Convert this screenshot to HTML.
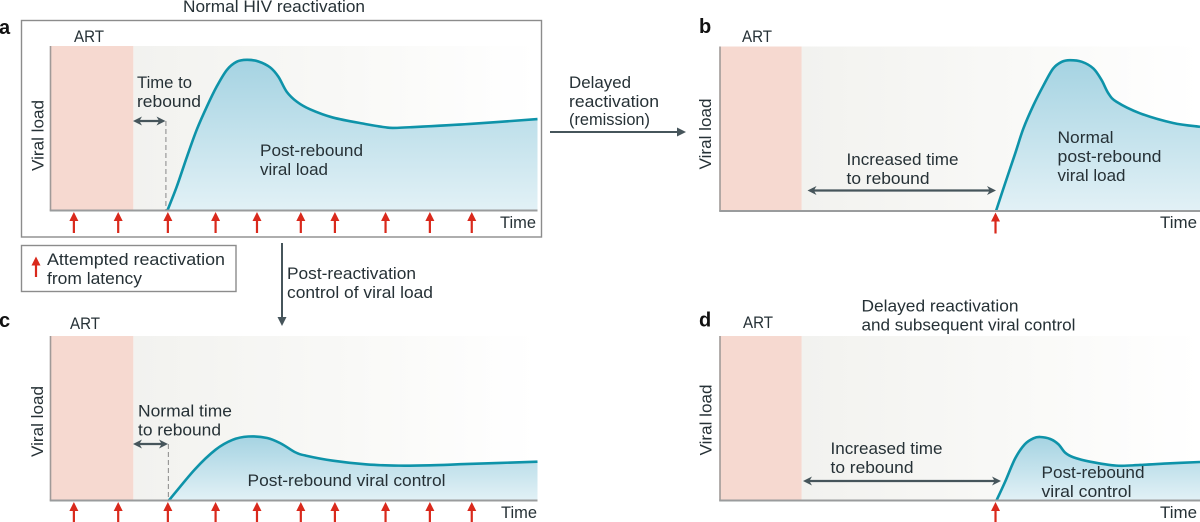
<!DOCTYPE html>
<html><head><meta charset="utf-8"><title>HIV reactivation scenarios</title>
<style>
html,body{margin:0;padding:0;background:#fff;width:1200px;height:522px;overflow:hidden}
svg{display:block}
text{font-family:"Liberation Sans",sans-serif;font-size:16.5px;fill:#263136}
text.pl{font-weight:700;font-size:20px;fill:#111}
</style></head><body>
<svg id="figure" xmlns="http://www.w3.org/2000/svg" width="1200" height="522" viewBox="0 0 1200 522">
<defs>
<linearGradient id="bg" x1="0" x2="1" y1="0" y2="0"><stop offset="0" stop-color="#f2f2ef"/><stop offset="0.55" stop-color="#f9f9f7"/><stop offset="1" stop-color="#ffffff"/></linearGradient>
<linearGradient id="fill" x1="0" x2="0" y1="0" y2="1"><stop offset="0" stop-color="#a5d3e2"/><stop offset="1" stop-color="#e2f1f6"/></linearGradient>
</defs>
<rect x="21.5" y="20.5" width="520" height="216.5" fill="none" stroke="#8c8c8c" stroke-width="1.4"/>
<rect x="21.5" y="245.5" width="214.5" height="46" fill="none" stroke="#8c8c8c" stroke-width="1.4"/>
<g id="marks"></g>
<g>
<text class="pl" x="-1" y="34">a</text>
<text x="183" y="12" textLength="182" lengthAdjust="spacingAndGlyphs">Normal HIV reactivation</text>
<text x="74" y="42" textLength="30" lengthAdjust="spacingAndGlyphs">ART</text>
<text transform="translate(43.5,171) rotate(-90)" textLength="71" lengthAdjust="spacingAndGlyphs">Viral load</text>
<text x="137" y="88" textLength="55" lengthAdjust="spacingAndGlyphs">Time to</text>
<text x="137" y="107" textLength="64" lengthAdjust="spacingAndGlyphs">rebound</text>
<text x="260" y="156" textLength="103" lengthAdjust="spacingAndGlyphs">Post-rebound</text>
<text x="260" y="175" textLength="68" lengthAdjust="spacingAndGlyphs">viral load</text>
<text x="500" y="228" textLength="36" lengthAdjust="spacingAndGlyphs">Time</text>
</g>
<g>
<text x="47" y="265" textLength="178" lengthAdjust="spacingAndGlyphs">Attempted reactivation</text>
<text x="47" y="284" textLength="95" lengthAdjust="spacingAndGlyphs">from latency</text>
<path d="M36 256.500l4.500 9h-3.400v11.500h-2.200v-11.500h-3.400z" fill="#d9291c"/>
</g>
<g>
<text x="569" y="88" textLength="62" lengthAdjust="spacingAndGlyphs">Delayed</text>
<text x="569" y="107" textLength="90" lengthAdjust="spacingAndGlyphs">reactivation</text>
<text x="569" y="125" textLength="81" lengthAdjust="spacingAndGlyphs">(remission)</text>
<text x="287" y="279" textLength="129" lengthAdjust="spacingAndGlyphs">Post-reactivation</text>
<text x="287" y="298" textLength="146" lengthAdjust="spacingAndGlyphs">control of viral load</text>
<path d="M550 131h127v-3.500l9 4.500-9 4.500v-3.500h-127z" fill="#46555b"/>
<path d="M281 243h2v74h3.500l-4.500 9-4.500-9h3.500z" fill="#46555b"/>
</g>
<g>
<text class="pl" x="699" y="33">b</text>
<text x="742" y="42" textLength="30" lengthAdjust="spacingAndGlyphs">ART</text>
<text transform="translate(711,169.500) rotate(-90)" textLength="71" lengthAdjust="spacingAndGlyphs">Viral load</text>
<text x="846.500" y="165" textLength="112" lengthAdjust="spacingAndGlyphs">Increased time</text>
<text x="846.500" y="184" textLength="83" lengthAdjust="spacingAndGlyphs">to rebound</text>
<text x="1057.500" y="143" textLength="56" lengthAdjust="spacingAndGlyphs">Normal</text>
<text x="1057.500" y="162" textLength="104" lengthAdjust="spacingAndGlyphs">post-rebound</text>
<text x="1057.500" y="181" textLength="68" lengthAdjust="spacingAndGlyphs">viral load</text>
<text x="1160" y="228" textLength="37" lengthAdjust="spacingAndGlyphs">Time</text>
</g>
<g>
<text class="pl" x="-1" y="327">c</text>
<text x="70" y="329" textLength="30" lengthAdjust="spacingAndGlyphs">ART</text>
<text transform="translate(43,457) rotate(-90)" textLength="71" lengthAdjust="spacingAndGlyphs">Viral load</text>
<text x="138" y="416.500" textLength="94" lengthAdjust="spacingAndGlyphs">Normal time</text>
<text x="138" y="435.500" textLength="83" lengthAdjust="spacingAndGlyphs">to rebound</text>
<text x="247.500" y="486" textLength="198" lengthAdjust="spacingAndGlyphs">Post-rebound viral control</text>
<text x="501" y="518" textLength="36" lengthAdjust="spacingAndGlyphs">Time</text>
</g>
<g>
<text class="pl" x="699" y="326.500">d</text>
<text x="743" y="328" textLength="30" lengthAdjust="spacingAndGlyphs">ART</text>
<text x="861.500" y="311.500" textLength="157" lengthAdjust="spacingAndGlyphs">Delayed reactivation</text>
<text x="861.500" y="330.500" textLength="214" lengthAdjust="spacingAndGlyphs">and subsequent viral control</text>
<text transform="translate(711.500,455.500) rotate(-90)" textLength="71" lengthAdjust="spacingAndGlyphs">Viral load</text>
<text x="830.500" y="454" textLength="112" lengthAdjust="spacingAndGlyphs">Increased time</text>
<text x="830.500" y="473" textLength="83" lengthAdjust="spacingAndGlyphs">to rebound</text>
<text x="1041.500" y="478" textLength="103" lengthAdjust="spacingAndGlyphs">Post-rebound</text>
<text x="1041.500" y="497" textLength="90" lengthAdjust="spacingAndGlyphs">viral control</text>
<text x="1160" y="518" textLength="37" lengthAdjust="spacingAndGlyphs">Time</text>
</g>
</svg>
<script>
// Values: time as % of the time axis, viral load as % of the y axis.
var artEnd = 17;
var timeA = [24,25.9,28,30,32.1,34.1,36.2,38.2,40.3,42.7,45.1,46.8,48.5,50.6,53.3,58,64.6,68.7,70.3,73.8,86.1,100];
var loadA = [0,14.3,32.5,48.9,63.1,75.2,85.4,90.4,91.6,90.6,87,81.3,72.2,66.1,61.5,56.5,52.6,50.6,50.2,50.6,52.6,55.6];
var timeB = [57.5,59.4,61.5,63.2,65.3,67.4,69.4,71.2,72.9,75.4,77.8,79.5,80.9,82.6,87.5,94.4,100];
var loadB = [0,16.8,35,50.1,64.3,76.4,86.6,90.7,91.7,90.7,86.6,79.6,71.6,66.4,59.4,53.5,51.2];
var timeC = [24.3,29.6,33.9,37.4,40.6,44.5,47.4,50.2,52.4,58,65,71.5,78,85.8,100];
var loadC = [0,18.8,30.9,36.9,38.9,38,34.5,29.4,27.3,24.2,21.9,21.2,21.4,22.2,23.6];
var timeD = [57.6,59.4,61.5,63.5,65.3,66.7,68.8,70.5,71.9,73.6,77.1,82.6,87.5,93.8,100];
var loadD = [0,11.4,25.6,34.2,37.8,38.6,37.4,34.2,29.1,26.3,23.6,21.2,21.6,22.6,23.4];
var attemptsAC = [4.8,13.9,24.1,33.9,42.4,51.4,58.4,68.8,77.9,86.5];
var attemptsB = [57.4];
var attemptsD = [57.4];
var reboundA = 23.7;
var reboundB = 57.4;
var reboundC = 24.2;
var reboundD = 57.4;

var NS = 'http://www.w3.org/2000/svg';
var root = document.getElementById('marks');

function make(tag, attrs, parent) {
  var el = document.createElementNS(NS, tag);
  for (var k in attrs) { el.setAttribute(k, attrs[k]); }
  parent.appendChild(el);
  return el;
}

function smooth(pts) {
  var d = 'M' + pts[0][0].toFixed(2) + ' ' + pts[0][1].toFixed(2);
  for (var i = 0; i < pts.length - 1; i++) {
    var p0 = pts[Math.max(i - 1, 0)], p1 = pts[i], p2 = pts[i + 1], p3 = pts[Math.min(i + 2, pts.length - 1)];
    var c1x = p1[0] + (p2[0] - p0[0]) / 6, c1y = p1[1] + (p2[1] - p0[1]) / 6;
    var c2x = p2[0] - (p3[0] - p1[0]) / 6, c2y = p2[1] - (p3[1] - p1[1]) / 6;
    d += 'C' + c1x.toFixed(2) + ' ' + c1y.toFixed(2) + ' ' + c2x.toFixed(2) + ' ' + c2y.toFixed(2) + ' ' + p2[0].toFixed(2) + ' ' + p2[1].toFixed(2);
  }
  return d;
}

function drawPanel(key, box, times, loads, attempts, rebound, spanY, dashed) {
  var g = make('g', {}, root);
  
  
  var xs = function (t) { return box.x + t / 100 * box.w; };
  var ys = function (v) { return box.base - v / 100 * box.h; };
  var top = ys(100);

  var bg = make('rect', {x: xs(artEnd), y: top, width: box.x + box.w - xs(artEnd), height: box.h, fill: 'url(#bg)'}, g);
  
  

  var art = make('rect', {x: box.x, y: top, width: xs(artEnd) - box.x, height: box.h, fill: '#f6d9d0'}, g);
  
  

  var pts = times.map(function (t, i) { return [xs(t), ys(loads[i])]; });
  var line = smooth(pts);
  var area = make('path', {d: line + 'L' + xs(times[times.length - 1]) + ' ' + box.base + 'L' + xs(times[0]) + ' ' + box.base + 'Z', fill: 'url(#fill)'}, g);
  
  

  var curve = make('path', {d: line, fill: 'none', stroke: '#0e93a9', 'stroke-width': 2.6, 'stroke-linejoin': 'round'}, g);
  
  

  var yAxis = make('line', {x1: box.x, x2: box.x, y1: top, y2: box.base, stroke: '#a09a98', 'stroke-width': 1.6}, g);
  
  

  var xAxis = make('line', {x1: box.x - 0.8, x2: box.x + box.w, y1: box.base, y2: box.base, stroke: '#9a9c9d', 'stroke-width': 2}, g);
  
  

  attempts.forEach(function (t) {
    var x = xs(t), y = box.base + 1.5;
    var a = make('path', {d: 'M' + x + ' ' + y + 'l4.500 9h-3.400v12h-2.200v-12h-3.400z', fill: '#d9291c'}, g);
    
    
  });

  if (dashed) {
    var dash = make('line', {x1: xs(rebound), x2: xs(rebound), y1: spanY.y, y2: box.base, stroke: '#888', 'stroke-width': 1, 'stroke-dasharray': '5 3'}, g);
    
    
  }

  var x1 = spanY.x1, x2 = spanY.x2, y2 = spanY.y;
  var span = make('path', {d: 'M' + x1 + ' ' + y2 + 'l9 -4.500 -2 3.400H' + (x2 - 7) + 'l-2 -3.400 9 4.500 -9 4.500 2 -3.400H' + (x1 + 7) + 'l2 3.400z', fill: '#46555b'}, g);
  
  
}

drawPanel('a', {x: 50.5, w: 487, base: 210.5, h: 164.5}, timeA, loadA, attemptsAC, reboundA, {x1: 133, x2: 165.5, y: 121}, true);
drawPanel('b', {x: 720, w: 480, base: 211, h: 164.5}, timeB, loadB, attemptsB, reboundB, {x1: 807.5, x2: 996, y: 190.5}, false);
drawPanel('c', {x: 50.5, w: 487, base: 500.5, h: 164.5}, timeC, loadC, attemptsAC, reboundC, {x1: 133, x2: 168, y: 444}, true);
drawPanel('d', {x: 720, w: 480, base: 500.5, h: 164.5}, timeD, loadD, attemptsD, reboundD, {x1: 803, x2: 1001, y: 481}, false);
</script>
</body></html>
